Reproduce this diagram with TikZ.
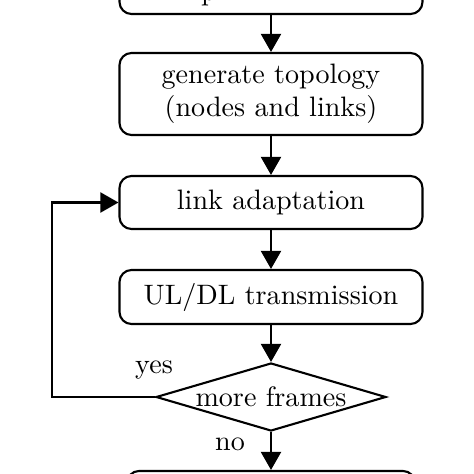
\documentclass[tikz,border=0pt]{standalone}
\usepackage{fontspec}
\setmainfont{lmroman10-regular.otf}
\usetikzlibrary{shapes.geometric,arrows.meta}
\begin{document}
\begin{tikzpicture}[x=1pt,y=-1pt,
  font=\fontsize{28.1}{32.5}\selectfont,
  procbox/.style={draw,line width=2.1pt,rounded corners=12pt,minimum width=303pt,inner sep=0pt,align=center,fill=white},
  decbox/.style={draw,line width=2.1pt,diamond,aspect=3.38,minimum width=230pt,minimum height=68pt,inner sep=0pt},
  arr/.style={line width=2.1pt,-{Triangle[width=20pt,length=18pt]}},
  lbl/.style={inner sep=0pt}]
\useasboundingbox (0,0) rectangle (474,474);
\clip (0,0) rectangle (474,474);
\node[procbox,minimum height=60pt] (b1) at (271,-16) {};
\node[lbl,anchor=base west] (pt) at (201,0.5) {p};
\node[procbox,minimum height=82pt] (b2) at (271,94) {generate topology\\(nodes and links)};
\node[procbox,minimum height=53pt] (b3) at (271,202.5) {link adaptation};
\node[procbox,minimum height=54pt] (b4) at (271,297) {UL/DL transmission};
\node[decbox] (d) at (271,397) {more frames};
\node[procbox,minimum width=288pt,minimum height=60pt] (b5) at (271,501) {};
\coordinate (lp) at (52,397);
\draw[arr] (b1) -- (b2);
\draw[arr] (b2) -- (b3);
\draw[arr] (b3) -- (b4);
\draw[arr] (b4.south) -- (d.north);
\draw[arr] (d.south) -- (b5.north);
\draw[arr] (d.west) -- (lp) |- (b3.west);
\node[lbl] (yes) at (154,370) {yes};
\node[lbl] (no) at (230,444) {no};
\end{tikzpicture}
\end{document}
